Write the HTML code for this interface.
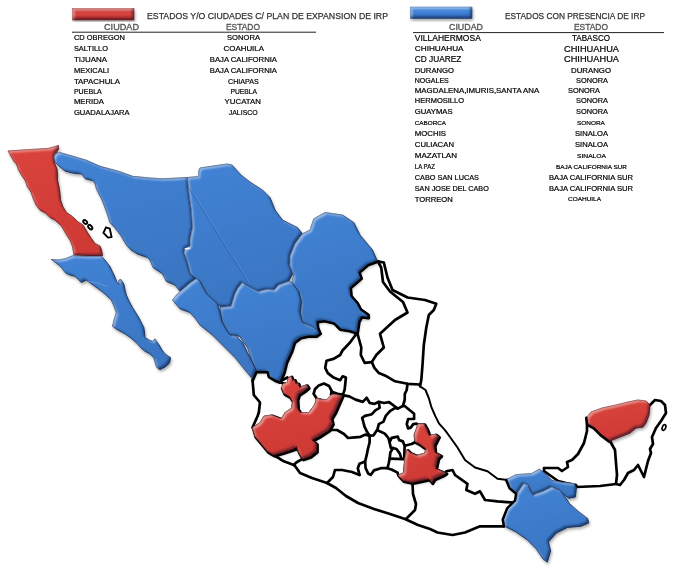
<!DOCTYPE html>
<html><head><meta charset="utf-8"><title>IRP</title>
<style>html,body{margin:0;padding:0;background:#fff}body{width:700px;height:580px;position:relative;overflow:hidden}</style></head>
<body>
<svg width="700" height="580" viewBox="0 0 700 580" style="position:absolute;left:0;top:0">
<defs>
<filter id="bev" x="-10%" y="-10%" width="120%" height="120%" color-interpolation-filters="sRGB">
  <feOffset in="SourceAlpha" dx="1.6" dy="2" result="o1"/>
  <feComposite in="SourceAlpha" in2="o1" operator="out" result="hl"/>
  <feGaussianBlur in="hl" stdDeviation="1.1" result="hlb"/>
  <feFlood flood-color="#ffffff" flood-opacity="0.55" result="w"/>
  <feComposite in="w" in2="hlb" operator="in" result="hlc"/>
  <feComposite in="hlc" in2="SourceAlpha" operator="in" result="hl2"/>
  <feOffset in="SourceAlpha" dx="-1.6" dy="-2" result="o2"/>
  <feComposite in="SourceAlpha" in2="o2" operator="out" result="dk"/>
  <feGaussianBlur in="dk" stdDeviation="1.1" result="dkb"/>
  <feFlood flood-color="#000820" flood-opacity="0.55" result="k"/>
  <feComposite in="k" in2="dkb" operator="in" result="dkc"/>
  <feComposite in="dkc" in2="SourceAlpha" operator="in" result="dk2"/>
  <feGaussianBlur in="SourceAlpha" stdDeviation="1.6" result="sb"/>
  <feOffset in="sb" dx="0.5" dy="2" result="so"/>
  <feComponentTransfer in="so" result="shadow"><feFuncA type="linear" slope="0.35"/></feComponentTransfer>
  <feMerge><feMergeNode in="shadow"/><feMergeNode in="SourceGraphic"/><feMergeNode in="hl2"/><feMergeNode in="dk2"/></feMerge>
</filter>
<linearGradient id="lgr" x1="0" y1="0" x2="0" y2="1"><stop offset="0" stop-color="#c8403c"/><stop offset="0.5" stop-color="#d8443f"/><stop offset="1" stop-color="#a82824"/></linearGradient>
<linearGradient id="lgb" x1="0" y1="0" x2="0" y2="1"><stop offset="0" stop-color="#4d8fe0"/><stop offset="0.5" stop-color="#3f80d6"/><stop offset="1" stop-color="#2c62b0"/></linearGradient>
<linearGradient id="gb" x1="0" y1="0" x2="0.25" y2="1"><stop offset="0" stop-color="#4283d5"/><stop offset="1" stop-color="#3a76c3"/></linearGradient>
<linearGradient id="gr" x1="0" y1="0" x2="0.25" y2="1"><stop offset="0" stop-color="#db443d"/><stop offset="1" stop-color="#cf3a35"/></linearGradient>
</defs>
<g fill="none" stroke="#000" stroke-width="2.7" stroke-linejoin="round" stroke-linecap="round">
<polyline points="256.3,371.3 252.5,380 253.8,395 258,400 260,402.5 258.8,412.5 257.5,416.3 252.5,427.5"/>
<polyline points="256.3,371.3 267.5,371.3 268.8,376.3 275,380 280,382.5 285,383.8"/>
<polyline points="316.2,336 320,333 317.5,327 317,321.3 324,320.5 333.5,322.7 336,325 339.7,329 349.2,330.5 357,333 350,342.5 342.5,350.5 340.1,355 333.6,358.9 326.5,360.8 325.2,367.9 327.8,373.1 333.6,377.6 340.1,380.2 342.7,376.3 345.9,377.6 345.3,383.5 344.6,389.9 342.7,395.1"/>
<polyline points="316.2,336 307.5,336 300.4,337.6 294.2,342.3 291.5,351 286.3,362.5 283.8,372.5 280,381.3 287.5,377.5"/>
<polyline points="316.2,397.7 313.6,393.8 314.9,389.3 318.8,385.4 323.9,383.5 329.1,386 331.7,391.2 331,394.5"/>
<polyline points="331.7,391.9 337.5,393.8 342.7,394.5"/>
<polyline points="342.7,395.1 349.2,396.4 355.6,399.6 362.8,401.9 366.6,397.8 369.8,403 374.5,403.9 378.8,401.7 384,403 389.1,402.2 394.3,406 397.8,408.6 402.9,406 404.7,400 404.8,393.9 406.7,390 407.5,383.8"/>
<polyline points="357.5,333.8 361.3,347.5 360.8,355 364.7,362.8 371.8,362.1"/>
<polyline points="371.8,362.1 374.4,367.9 378.9,373.1 385.4,375.7 395,381.3 407.5,383.8 420,384.5"/>
<polyline points="371.8,362.1 376.3,355 383.8,347.5 380,333.8 395,320 407.5,312.5 403,302 390,291.5 383,282 381.2,267.5 378,261.5"/>
<polyline points="377.5,261.3 367.5,265 358.8,272.5 361,278.5 350,288 350.8,296 357,303 360.2,309.3 368,314.8 368,318 361,317.2 358.6,322 357,333"/>
<polyline points="377.5,261.3 383.8,262.5 387.5,277.5 392.5,290 407.5,297.5 425,300 436.3,303.8 433.8,310 428.8,315 426.3,327.5 423.8,345 422.5,365 421.3,380 420,386.3"/>
<polyline points="378.8,402.6 379.7,407.8 375.3,410.3 371.9,414.2 365,415.9 362.1,417.8 362.8,420 364.5,426.7 367.3,432.3 369.6,435.7"/>
<polyline points="331,430 337,430 344,434 348,438 355,437.4 360.6,436.8 365.1,434.6 369.6,435.7"/>
<polyline points="397.8,408.6 395.2,407.8 390,411.2 385.7,415.9 383.5,421.6 378.8,424.1 377.5,429.3 373.6,435.3 369.6,435.7"/>
<polyline points="377.5,430.2 384.8,433.6 388.3,437.9 389.6,442.2 391.7,437.9 397.8,436.6 399.1,440.1 402.9,441.4 404.7,445.7 411.6,444 415,442.2"/>
<polyline points="402.9,406 404.7,406 409.8,410.3 414.1,413.8 414.1,419 408.1,419 406.8,424.1 408.1,428.4 410.7,427.6 413.3,424.1 416.7,423.7 418.4,425"/>
<polyline points="389.6,442.2 390.8,448 393.1,448 390.3,452.5 389.7,458.6 388.6,463.7 387.5,468.2"/>
<polyline points="393.1,448 396.5,449 399.8,453.6 401.5,458.8"/>
<polyline points="389.7,458.6 404.3,459.2"/>
<polyline points="404.7,445.7 404.3,453.6 404.3,459.2"/>
<polyline points="369.6,435.7 369.6,442.4 367.9,449.1 366.8,454.7 365.1,461.4 365.6,468.2 368.4,473.8 370.7,474.9 374,470.4 380.8,468.2 387.5,468.2 392,469.8 397.6,472.6 398.2,475.2"/>
<polyline points="365.1,461.4 359.5,463.7 357.8,468.2 359.5,474.9"/>
<polyline points="327,483 333,477 335,470 342,470 352,472 359.5,474.9"/>
<polyline points="273.8,455 283.8,461.3 293.8,465 295,466 300,473 312,478 327,483 336,488 346,496 358,503 374,509 390,514 405,519 418,525 430,529 437.5,532.5 452.5,535 465,532.5 480,526.3 503.8,526.3"/>
<polyline points="293.8,465 296.3,462.5 302.5,458.8"/>
<polyline points="412.5,483 413,494 416,504 415,510 406,519"/>
<polyline points="446.3,471.3 452.5,470 455,475 467.5,483.8 466.3,490 475,493.8 480,491.3 485,500 497.5,501.3 512.5,502.5 516.3,501.3"/>
<polyline points="507,480 510.3,488.1 517,493.7 515.9,500.5 508,508.3 503.6,519.5 504.7,526.2"/>
<polyline points="587,418 587,431 584,443 578,454 572,460 567,462 568,467 562,471 558,468 544,468 544,471 551,476 558,481 566,483 576,485 577,487 600,486 616,484"/>
<polyline points="650,405 655,400 661,401 665,405 666,413 661,421 656,428 652,437 653,444 650,449 651,453 648,461 646,469 644,477 640,469 638,465 634,470 628,473 624,480 620,485 616,484 617,475 616,463 615,450 610,441"/>
<polyline points="420,386.3 425.5,390 428.7,397.8 431.3,406.8 435.2,415.9 439.1,423.6 445,430.1 450,437 457.5,447.5 465,460 475,467.5 487.5,471.3 497.5,478.8 507.5,480" stroke-width="2"/>
<ellipse cx="664" cy="427.5" rx="1.7" ry="2.9" stroke-width="1.7" transform="rotate(20 664 427.5)"/>
<ellipse cx="85.2" cy="222" rx="2.3" ry="1.5" transform="rotate(42 85.2 222)" stroke-width="1.9"/>
<ellipse cx="90.2" cy="227.2" rx="2.6" ry="1.6" transform="rotate(50 90.2 227.2)" stroke-width="1.9"/>
<polygon points="106,227.3 109.8,228.6 111.6,237.1 108.1,237.6 103.4,232.8" stroke-width="1.9"/>
</g>
<g fill="#fff" stroke="#000" stroke-width="3.2" stroke-linejoin="round" transform="translate(1.0,1.0)">
<polygon points="288.3,377.9 290.9,376.2 292.6,380.5 294.3,379.7 296,384 297.8,383.1 299.5,387.4 303.8,385.7 306.4,384.8 308.1,387.4 303.8,390.9 298.6,394.3 296.9,399.5 297.5,408.5 300,412.5 308.8,412.5 315,404.2 316.2,398.3 322,399.6 326.5,399.6 331,395.1 334.9,394.5 342,395.7 338.8,402.9 334.9,411.9 331,418.4 332.3,423.6 328.8,430 318.8,436.3 312,440 316.3,443.8 316.3,451.3 310,456.3 302.5,458.8 298.8,452.5 296.3,446.3 293.8,448.8 282.5,452.5 273.8,455 267.5,451.3 261.3,443.8 255,436.3 252.5,427.5 260,422.5 263.8,416.3 271.3,415 281.3,418.8 285,412.5 291.7,408.1 292.6,401.2 290,396.9 284,393.4 281.4,387.4 283.1,384 287.4,382.2"/>
<polygon points="418,423.9 423.8,423.9 426.8,429 429,435.6 435.5,434.2 438.4,436.4 436,441 434,445.2 434.8,452.5 440.7,455.4 437.7,458.4 436.5,464 435.5,468.6 445.8,473 443.6,474.5 434,478.9 431.9,482.5 429,478.9 412.1,482.5 403,480.5 398.2,475.2 404,472.5 404,468.6 404.8,458.4 407,449.6 409.9,452.5 416.5,455.4 424.6,453.2 426,448.8 420.2,444.4 415,441.5 414.3,434.2 416.5,428.3"/>
</g>
<g stroke-linejoin="round">
<polygon points="8,151 30,149.5 48,148.5 58.5,145.5 58.5,149 56,153 54,157.5 54.5,163 57,169 57.5,174 57.5,180 59,187 60,194 60.5,200 63,207 66.5,212.5 72.5,216.5 77.5,221.5 83,225 87.5,232.5 91,238 95,243.5 100,246 101.5,250 102.5,255.5 88,255.5 74,255 72.5,246.5 70,240 67.5,236.5 61.5,226 55,220 50,217.5 45.5,213 40,210 36,205 33,198 31,192 27,186 25.5,181 21.5,175 18.5,170 16.5,164 14,161.5 11,156" fill="url(#gr)" stroke="#6e1715" stroke-width="0.85" filter="url(#bev)"/>
<polygon points="51.3,259.5 58,260 65,258.8 72.5,255.8 88,256.5 101.3,256.3 105,260 110,266.5 112,271 114,275 116.5,281 118.8,285 119,280 121,279.5 123.8,284 125,290 126.3,295 129,301 132.5,307.5 136,313 138.8,317.5 141,322 143.8,327.5 144.5,332 145,337.5 149,340 152.5,341.3 155,338.8 157,342 160,346.3 162,350 165,353.8 168,356 170.5,357.5 170,361 168.8,363.8 165,367 160,369.5 157.5,368 156.3,366.3 155,362 153.8,357.5 150,354 145,351.3 141,348 137.5,343.8 131,338 125,333.8 118,330 112.5,326.3 114,320 116.3,312.5 114,306 111.3,300 105,294 100,290 93,285 86.3,280 81.3,282.5 78,279 75,276.3 70,275 65,272.5 62,268 58.8,265 55,262" fill="url(#gb)" stroke="#1d3866" stroke-width="0.85" filter="url(#bev)"/>
<polygon points="55.2,154.1 59.5,152.4 72,156 86.2,160.2 100,166.3 119,171.4 132.5,176.3 150,178 162.5,178.8 187.5,177.5 188.8,192.5 191.3,210 192.5,227.5 190,240 190,246.3 186,248 183.8,252.5 187.5,262.5 190,272 191.3,275 196.3,278.8 190,283 185,287.5 180,291.3 175,285 166.3,281.3 162.5,273.8 153,267.5 150,260 147.5,257.5 137.5,254 131,250 126.6,245.3 120.5,235 114.6,227.3 110,222.5 106.9,212.8 101.7,199 96.6,189.3 94.5,182 92.9,180.7 85,178.6 82,174 72.4,173 65,171 58.6,165.7 55.2,162 54,157.5" fill="url(#gb)" stroke="#1d3866" stroke-width="0.85" filter="url(#bev)"/>
<polygon points="187.5,177.5 198.5,176.5 199,170 200,168 213,166 227,164 232,165 236,169.5 241,175 250,182 262.5,190 270,197.5 273,205 275,210 282.5,220 297.5,227.5 302.5,233.8 295,243 290,255.5 289,265 292.5,274 288.6,281.4 278.6,285 274.3,290 267.1,289.3 258.6,291.4 252.9,288.6 245,284.3 242.5,282.5 238,288 235,293.8 233,300 231.3,306.3 220,306.3 217.5,303.8 207.5,295 200,281.3 196.3,278.8 191.3,275 190,272 187.5,262.5 183.8,252.5 186,248 190,246.3 190,240 192.5,227.5 191.3,210 188.8,192.5" fill="url(#gb)" stroke="#1d3866" stroke-width="0.85" filter="url(#bev)"/>
<polygon points="302.5,233.8 310,230 313.8,218.8 325,212.5 342.5,215 353.8,222.5 360,235 365,241 372.5,250 377.5,261.3 367.5,265 358.8,272.5 361,278.5 350,288 350.8,296 357,303 360.2,309.3 368,314.8 368,318 361,317.2 358.6,322 357,333 349.2,330.5 339.7,329 336,325 333.5,322.7 324,320.5 317,321.3 317.5,327 320,333 313.8,327.5 302.5,322.5 300,312.5 301.3,302 298.8,292 292,282.5 293.8,275 290,266.3 290,256.3 295,243.8" fill="url(#gb)" stroke="#1d3866" stroke-width="0.85" filter="url(#bev)"/>
<polygon points="220,307.5 231.3,306.3 233,300 235,293.8 238,288 242.5,282.5 245,284.3 252.9,288.6 258.6,291.4 267.1,289.3 274.3,290 278.6,285 288.6,281.4 292,282.5 298.8,292 301.3,302 300,312.5 302.5,322.5 313.8,327.5 320,333 316.2,336 307.5,336 300.4,337.6 294.2,342.3 291.5,351 286.3,362.5 283.8,372.5 280,381.3 275,380 268.8,376.3 267.5,371.3 256.3,371.3 252.5,362.5 247.5,347.5 242,340 240,336.3 230,335 225,327 221.3,320" fill="url(#gb)" stroke="#1d3866" stroke-width="0.85" filter="url(#bev)"/>
<polygon points="172.5,300 177.5,293.8 185,287.5 190,283 196.3,278.8 200,281.3 207.5,295 217.5,303.8 220,311.3 222.5,322.5 226,329 230,335 236.3,336.3 242.5,342.5 247.5,352.5 252.5,362.5 256.3,370 254,375 252.5,378.8 245,370 235,357.5 225,347.5 212.5,335 200,325 195,318 190,312.5 180,308.8" fill="url(#gb)" stroke="#1d3866" stroke-width="0.85" filter="url(#bev)"/>
<polygon points="288.3,377.9 290.9,376.2 292.6,380.5 294.3,379.7 296,384 297.8,383.1 299.5,387.4 303.8,385.7 306.4,384.8 308.1,387.4 303.8,390.9 298.6,394.3 296.9,399.5 297.5,408.5 300,412.5 308.8,412.5 315,404.2 316.2,398.3 322,399.6 326.5,399.6 331,395.1 334.9,394.5 342,395.7 338.8,402.9 334.9,411.9 331,418.4 332.3,423.6 328.8,430 318.8,436.3 312,440 316.3,443.8 316.3,451.3 310,456.3 302.5,458.8 298.8,452.5 296.3,446.3 293.8,448.8 282.5,452.5 273.8,455 267.5,451.3 261.3,443.8 255,436.3 252.5,427.5 260,422.5 263.8,416.3 271.3,415 281.3,418.8 285,412.5 291.7,408.1 292.6,401.2 290,396.9 284,393.4 281.4,387.4 283.1,384 287.4,382.2" fill="url(#gr)" stroke="#6e1715" stroke-width="0.85" filter="url(#bev)"/>
<polygon points="418,423.9 423.8,423.9 426.8,429 429,435.6 435.5,434.2 438.4,436.4 436,441 434,445.2 434.8,452.5 440.7,455.4 437.7,458.4 436.5,464 435.5,468.6 445.8,473 443.6,474.5 434,478.9 431.9,482.5 429,478.9 412.1,482.5 403,480.5 398.2,475.2 404,472.5 404,468.6 404.8,458.4 407,449.6 409.9,452.5 416.5,455.4 424.6,453.2 426,448.8 420.2,444.4 415,441.5 414.3,434.2 416.5,428.3" fill="url(#gr)" stroke="#6e1715" stroke-width="0.85" filter="url(#bev)"/>
<polygon points="587,417 591,412 602,408 616,405 628,402 638,400 646,401 650,405 649,415 646,423 643,427 636,428 630,433 620,437 610,441 602,435 595,428 588,424" fill="url(#gr)" stroke="#6e1715" stroke-width="0.85" filter="url(#bev)"/>
<polygon points="506.9,479.2 515.9,474.7 531.6,473.5 539.4,469.1 545,473.5 551.8,480.3 563,482.5 574.2,483.6 576.4,488.1 575.3,497.1 568.6,498.2 563,493.7 559.6,490.4 551.8,487 542.8,491.5 532.7,494.9 528.2,484.8 523.7,483.6 517,493.7 510.3,488.1" fill="url(#gb)" stroke="#1d3866" stroke-width="0.85" filter="url(#bev)"/>
<polygon points="510.3,488.1 517,493.7 523.7,483.6 528.2,484.8 532.7,494.9 542.8,491.5 551.8,487 559.6,490.4 563,493.7 569.7,503.8 578.7,511.7 587.6,518.4 588.8,522.9 580.9,526.2 567.5,527.4 556.3,533 548.4,541.9 550.6,550.9 547.3,562.1 542.8,558.8 536.1,548.7 527.1,539.7 515.9,531.9 504.7,526.2 503.6,519.5 508,508.3 515.9,500.5 517,493.7" fill="url(#gb)" stroke="#1d3866" stroke-width="0.85" filter="url(#bev)"/>
</g>
<g fill="none" stroke="#000" stroke-width="2.4" stroke-linejoin="round" stroke-linecap="round">
<polyline transform="translate(0.9,0.2)" points="377.5,261.3 367.5,265 358.8,272.5 361,278.5 350,288 350.8,296 357,303 360.2,309.3 368,314.8 368,318 361,317.2 358.6,322 357,333"/>
<polyline transform="translate(0.7,0.9)" points="320,333 317.5,327 317,321.3 324,320.5 333.5,322.7 336,325 339.7,329 349.2,330.5 357,333"/>
<polyline transform="translate(0.8,0.8)" points="320,333 316.2,336 307.5,336 300.4,337.6 294.2,342.3 291.5,351 286.3,362.5 283.8,372.5 280,381.3"/>
<polyline transform="translate(0.2,1.0)" points="252.5,380 256.3,371.3 267.5,371.3 268.8,376.3 275,380 280,381.8"/>
<polyline transform="translate(-0.8,0.8)" points="587,417 588,424 595,428 602,435 610,441"/>
<polyline transform="translate(-0.9,0)" points="507,480 510.3,488.1 517,493.7 515.9,500.5 508,508.3 503.6,519.5 504.7,526.2"/>
</g>
<path d="M189.4,188.8 L247.6,281.9" stroke="#2c5ca8" stroke-width="1.2" fill="none" opacity="0.55"/>
<path d="M190.6,188.8 L248.8,281.9" stroke="#6aa0e6" stroke-width="1" fill="none" opacity="0.45"/>
<path d="M88,281.6 L98,283 L107.5,286.5" stroke="#7fb0ee" stroke-width="1" fill="none" opacity="0.5"/>
<ellipse cx="187.3" cy="248.6" rx="3" ry="0.9" fill="#fff" transform="rotate(-8 187.3 248.6)"/>
<g filter="url(#bev)"><rect x="72.5" y="8.5" width="61.5" height="11.5" fill="url(#lgr)" stroke="#8a2825" stroke-width="0.5"/><rect x="410.5" y="7" width="61.5" height="11.5" fill="url(#lgb)" stroke="#2a4f8a" stroke-width="0.5"/></g>
<line x1="72" y1="32.2" x2="316" y2="32.2" stroke="#222" stroke-width="1"/>
<line x1="413" y1="32.6" x2="664" y2="32.6" stroke="#222" stroke-width="1"/>
<g font-family="Liberation Sans, sans-serif">
<text x="147.0" y="19.0" font-size="9" fill="#333" font-weight="normal" stroke="#333" stroke-width="0.25" textLength="241.0" lengthAdjust="spacingAndGlyphs">ESTADOS Y/O CIUDADES C/ PLAN DE EXPANSION DE IRP</text>
<text x="505.0" y="19.0" font-size="9" fill="#333" font-weight="normal" stroke="#333" stroke-width="0.25" textLength="140.0" lengthAdjust="spacingAndGlyphs">ESTADOS CON PRESENCIA DE IRP</text>
<text x="104.0" y="29.7" font-size="9.6" fill="#555" font-weight="normal" stroke="#555" stroke-width="0.35" textLength="35.0" lengthAdjust="spacingAndGlyphs">CIUDAD</text>
<text x="226.0" y="29.7" font-size="9.6" fill="#555" font-weight="normal" stroke="#555" stroke-width="0.35" textLength="34.0" lengthAdjust="spacingAndGlyphs">ESTADO</text>
<text x="449.0" y="30.2" font-size="9.6" fill="#555" font-weight="normal" stroke="#555" stroke-width="0.35" textLength="34.0" lengthAdjust="spacingAndGlyphs">CIUDAD</text>
<text x="574.0" y="30.2" font-size="9.6" fill="#555" font-weight="normal" stroke="#555" stroke-width="0.35" textLength="34.0" lengthAdjust="spacingAndGlyphs">ESTADO</text>
<text x="73.9" y="40.1" font-size="7.5" fill="#000" font-weight="normal" stroke="#000" stroke-width="0.2" textLength="51.1" lengthAdjust="spacingAndGlyphs">CD OBREGON</text>
<text x="227.0" y="40.1" font-size="7.5" fill="#000" font-weight="normal" stroke="#000" stroke-width="0.2" textLength="33.0" lengthAdjust="spacingAndGlyphs">SONORA</text>
<text x="73.9" y="51.1" font-size="7.5" fill="#000" font-weight="normal" stroke="#000" stroke-width="0.2" textLength="34.1" lengthAdjust="spacingAndGlyphs">SALTILLO</text>
<text x="223.5" y="51.1" font-size="7.5" fill="#000" font-weight="normal" stroke="#000" stroke-width="0.2" textLength="40.5" lengthAdjust="spacingAndGlyphs">COAHUILA</text>
<text x="73.9" y="62.0" font-size="7.5" fill="#000" font-weight="normal" stroke="#000" stroke-width="0.2" textLength="33.1" lengthAdjust="spacingAndGlyphs">TIJUANA</text>
<text x="209.8" y="62.0" font-size="7.5" fill="#000" font-weight="normal" stroke="#000" stroke-width="0.2" textLength="67.2" lengthAdjust="spacingAndGlyphs">BAJA CALIFORNIA</text>
<text x="73.9" y="73.0" font-size="7.5" fill="#000" font-weight="normal" stroke="#000" stroke-width="0.2" textLength="35.1" lengthAdjust="spacingAndGlyphs">MEXICALI</text>
<text x="209.8" y="73.0" font-size="7.5" fill="#000" font-weight="normal" stroke="#000" stroke-width="0.2" textLength="67.2" lengthAdjust="spacingAndGlyphs">BAJA CALIFORNIA</text>
<text x="73.9" y="84.0" font-size="7.5" fill="#000" font-weight="normal" stroke="#000" stroke-width="0.2" textLength="46.1" lengthAdjust="spacingAndGlyphs">TAPACHULA</text>
<text x="228.0" y="84.0" font-size="7.5" fill="#000" font-weight="normal" stroke="#000" stroke-width="0.2" textLength="30.8" lengthAdjust="spacingAndGlyphs">CHIAPAS</text>
<text x="73.9" y="94.0" font-size="7.5" fill="#000" font-weight="normal" stroke="#000" stroke-width="0.2" textLength="27.9" lengthAdjust="spacingAndGlyphs">PUEBLA</text>
<text x="230.4" y="94.0" font-size="7.5" fill="#000" font-weight="normal" stroke="#000" stroke-width="0.2" textLength="26.6" lengthAdjust="spacingAndGlyphs">PUEBLA</text>
<text x="73.9" y="104.2" font-size="7.5" fill="#000" font-weight="normal" stroke="#000" stroke-width="0.2" textLength="30.0" lengthAdjust="spacingAndGlyphs">MERIDA</text>
<text x="224.6" y="104.2" font-size="7.5" fill="#000" font-weight="normal" stroke="#000" stroke-width="0.2" textLength="36.4" lengthAdjust="spacingAndGlyphs">YUCATAN</text>
<text x="73.9" y="114.5" font-size="7.5" fill="#000" font-weight="normal" stroke="#000" stroke-width="0.2" textLength="55.7" lengthAdjust="spacingAndGlyphs">GUADALAJARA</text>
<text x="228.7" y="114.5" font-size="7.5" fill="#000" font-weight="normal" stroke="#000" stroke-width="0.2" textLength="29.1" lengthAdjust="spacingAndGlyphs">JALISCO</text>
<text x="414.8" y="40.7" font-size="8.6" fill="#000" font-weight="normal" stroke="#000" stroke-width="0.2" textLength="66.0" lengthAdjust="spacingAndGlyphs">VILLAHERMOSA</text>
<text x="572.0" y="40.7" font-size="8.6" fill="#000" font-weight="normal" stroke="#000" stroke-width="0.2" textLength="38.0" lengthAdjust="spacingAndGlyphs">TABASCO</text>
<text x="414.8" y="51.1" font-size="7.5" fill="#000" font-weight="normal" stroke="#000" stroke-width="0.2" textLength="48.8" lengthAdjust="spacingAndGlyphs">CHIHUAHUA</text>
<text x="564.0" y="51.5" font-size="8.6" fill="#000" font-weight="normal" stroke="#000" stroke-width="0.2" textLength="55.0" lengthAdjust="spacingAndGlyphs">CHIHUAHUA</text>
<text x="414.8" y="61.6" font-size="8.6" fill="#000" font-weight="normal" stroke="#000" stroke-width="0.2" textLength="46.6" lengthAdjust="spacingAndGlyphs">CD JUAREZ</text>
<text x="564.0" y="61.6" font-size="8.6" fill="#000" font-weight="normal" stroke="#000" stroke-width="0.2" textLength="55.0" lengthAdjust="spacingAndGlyphs">CHIHUAHUA</text>
<text x="414.8" y="72.5" font-size="7" fill="#000" font-weight="normal" stroke="#000" stroke-width="0.2" textLength="39.2" lengthAdjust="spacingAndGlyphs">DURANGO</text>
<text x="571.0" y="72.5" font-size="7" fill="#000" font-weight="normal" stroke="#000" stroke-width="0.2" textLength="40.0" lengthAdjust="spacingAndGlyphs">DURANGO</text>
<text x="414.8" y="83.3" font-size="7" fill="#000" font-weight="normal" stroke="#000" stroke-width="0.2" textLength="34.0" lengthAdjust="spacingAndGlyphs">NOGALES</text>
<text x="576.0" y="83.3" font-size="7" fill="#000" font-weight="normal" stroke="#000" stroke-width="0.2" textLength="32.0" lengthAdjust="spacingAndGlyphs">SONORA</text>
<text x="414.8" y="93.3" font-size="7" fill="#000" font-weight="normal" stroke="#000" stroke-width="0.2" textLength="124.4" lengthAdjust="spacingAndGlyphs">MAGDALENA,IMURIS,SANTA ANA</text>
<text x="568.0" y="93.3" font-size="7" fill="#000" font-weight="normal" stroke="#000" stroke-width="0.2" textLength="32.0" lengthAdjust="spacingAndGlyphs">SONORA</text>
<text x="414.8" y="103.3" font-size="7" fill="#000" font-weight="normal" stroke="#000" stroke-width="0.2" textLength="49.2" lengthAdjust="spacingAndGlyphs">HERMOSILLO</text>
<text x="576.0" y="103.3" font-size="7" fill="#000" font-weight="normal" stroke="#000" stroke-width="0.2" textLength="32.0" lengthAdjust="spacingAndGlyphs">SONORA</text>
<text x="414.8" y="113.9" font-size="7" fill="#000" font-weight="normal" stroke="#000" stroke-width="0.2" textLength="37.8" lengthAdjust="spacingAndGlyphs">GUAYMAS</text>
<text x="576.0" y="113.9" font-size="7" fill="#000" font-weight="normal" stroke="#000" stroke-width="0.2" textLength="32.0" lengthAdjust="spacingAndGlyphs">SONORA</text>
<text x="414.8" y="124.8" font-size="6.2" fill="#000" font-weight="normal" stroke="#000" stroke-width="0.2" textLength="31.2" lengthAdjust="spacingAndGlyphs">CABORCA</text>
<text x="577.0" y="124.8" font-size="6.2" fill="#000" font-weight="normal" stroke="#000" stroke-width="0.2" textLength="27.8" lengthAdjust="spacingAndGlyphs">SONORA</text>
<text x="414.8" y="136.3" font-size="7" fill="#000" font-weight="normal" stroke="#000" stroke-width="0.2" textLength="31.2" lengthAdjust="spacingAndGlyphs">MOCHIS</text>
<text x="575.0" y="136.3" font-size="7" fill="#000" font-weight="normal" stroke="#000" stroke-width="0.2" textLength="33.0" lengthAdjust="spacingAndGlyphs">SINALOA</text>
<text x="414.8" y="146.7" font-size="7" fill="#000" font-weight="normal" stroke="#000" stroke-width="0.2" textLength="39.2" lengthAdjust="spacingAndGlyphs">CULIACAN</text>
<text x="575.0" y="146.7" font-size="7" fill="#000" font-weight="normal" stroke="#000" stroke-width="0.2" textLength="33.0" lengthAdjust="spacingAndGlyphs">SINALOA</text>
<text x="414.8" y="158.3" font-size="7" fill="#000" font-weight="normal" stroke="#000" stroke-width="0.2" textLength="42.2" lengthAdjust="spacingAndGlyphs">MAZATLAN</text>
<text x="577.0" y="158.0" font-size="6.2" fill="#000" font-weight="normal" stroke="#000" stroke-width="0.2" textLength="29.0" lengthAdjust="spacingAndGlyphs">SINALOA</text>
<text x="414.8" y="169.1" font-size="7" fill="#000" font-weight="normal" stroke="#000" stroke-width="0.2" textLength="20.2" lengthAdjust="spacingAndGlyphs">LA PAZ</text>
<text x="556.0" y="168.8" font-size="6.2" fill="#000" font-weight="normal" stroke="#000" stroke-width="0.2" textLength="71.0" lengthAdjust="spacingAndGlyphs">BAJA CALIFORNIA SUR</text>
<text x="414.8" y="179.9" font-size="7" fill="#000" font-weight="normal" stroke="#000" stroke-width="0.2" textLength="64.2" lengthAdjust="spacingAndGlyphs">CABO SAN LUCAS</text>
<text x="549.0" y="179.9" font-size="7" fill="#000" font-weight="normal" stroke="#000" stroke-width="0.2" textLength="84.0" lengthAdjust="spacingAndGlyphs">BAJA CALIFORNIA SUR</text>
<text x="414.8" y="191.1" font-size="7" fill="#000" font-weight="normal" stroke="#000" stroke-width="0.2" textLength="74.0" lengthAdjust="spacingAndGlyphs">SAN JOSE DEL CABO</text>
<text x="549.0" y="191.1" font-size="7" fill="#000" font-weight="normal" stroke="#000" stroke-width="0.2" textLength="84.0" lengthAdjust="spacingAndGlyphs">BAJA CALIFORNIA SUR</text>
<text x="414.8" y="201.5" font-size="7" fill="#000" font-weight="normal" stroke="#000" stroke-width="0.2" textLength="38.0" lengthAdjust="spacingAndGlyphs">TORREON</text>
<text x="568.0" y="201.2" font-size="6.2" fill="#000" font-weight="normal" stroke="#000" stroke-width="0.2" textLength="33.0" lengthAdjust="spacingAndGlyphs">COAHUILA</text>
</g>
</svg>
</body></html>
